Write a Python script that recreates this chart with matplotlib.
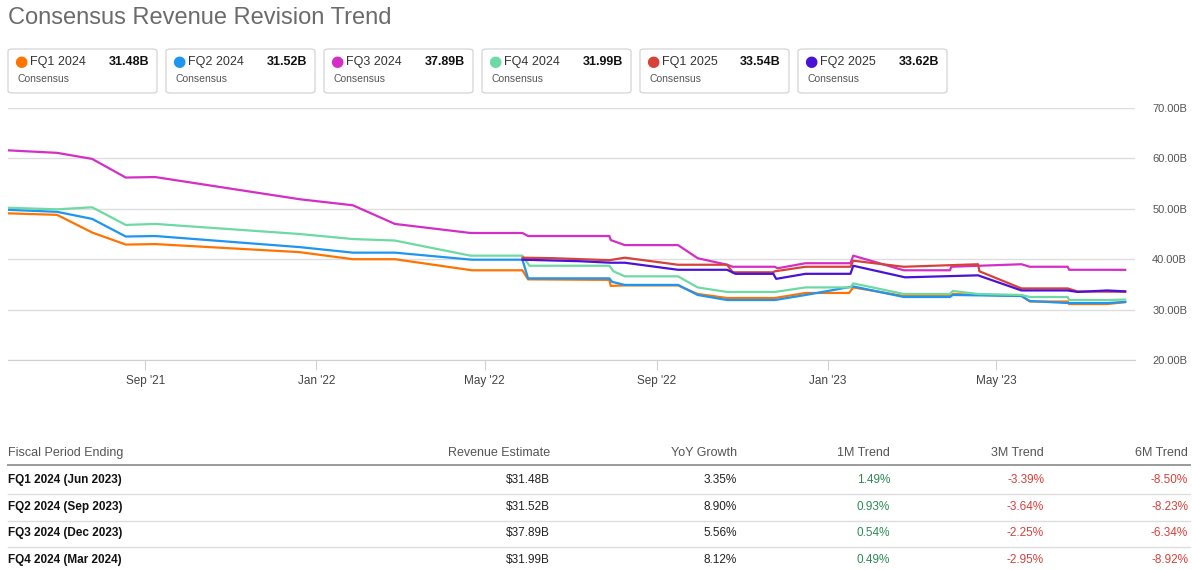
import pandas as pd
import matplotlib
matplotlib.use("Agg")
import matplotlib.pyplot as plt
import matplotlib.dates as mdates
from matplotlib.patches import FancyBboxPatch

plt.rcParams['font.family'] = ['Liberation Sans', 'DejaVu Sans']

W, H = 1192, 570

# ---- data ----
series_names = ['FQ1 2024', 'FQ2 2024', 'FQ3 2024', 'FQ4 2024', 'FQ1 2025', 'FQ2 2025']
series_latest = ['31.48B', '31.52B', '37.89B', '31.99B', '33.54B', '33.62B']
series_colors = ['#ff7300', '#1e96f0', '#d42ec6', '#6dd9a3', '#d6423a', '#4a12d6']

fq1_24_dates = ['2021-05-26', '2021-06-30', '2021-07-25', '2021-08-18', '2021-09-08', '2021-12-20',
                '2022-01-27', '2022-02-26', '2022-04-22', '2022-05-28', '2022-06-01', '2022-07-29',
                '2022-07-30', '2022-08-09', '2022-09-16', '2022-09-30', '2022-10-21', '2022-11-24',
                '2022-12-16', '2023-01-16', '2023-01-19', '2023-02-24', '2023-03-29', '2023-03-31',
                '2023-05-19', '2023-05-25', '2023-06-21', '2023-06-22', '2023-07-19', '2023-08-01']
fq1_24_vals = [49.1, 48.8, 45.3, 42.9, 43.0, 41.4,
               40.0, 40.0, 37.8, 37.8, 36.0, 35.9,
               34.7, 34.8, 34.8, 33.1, 32.3, 32.3,
               33.3, 33.3, 34.4, 32.7, 32.7, 33.1,
               32.7, 31.6, 31.6, 31.1, 31.1, 31.48]

fq2_24_dates = ['2021-05-26', '2021-06-30', '2021-07-25', '2021-08-18', '2021-09-08', '2021-12-20',
                '2022-01-27', '2022-02-26', '2022-04-22', '2022-05-28', '2022-06-01', '2022-07-29',
                '2022-07-31', '2022-08-09', '2022-09-16', '2022-09-30', '2022-10-21', '2022-11-24',
                '2022-12-16', '2023-01-15', '2023-01-19', '2023-02-24', '2023-03-29', '2023-03-31',
                '2023-05-19', '2023-05-25', '2023-06-21', '2023-07-19', '2023-08-01']
fq2_24_vals = [49.8, 49.4, 48.0, 44.5, 44.6, 42.4,
               41.3, 41.3, 39.9, 39.9, 36.2, 36.2,
               35.5, 34.9, 34.9, 32.9, 31.9, 31.9,
               32.9, 34.4, 34.6, 32.5, 32.5, 32.9,
               32.7, 31.7, 31.3, 31.3, 31.52]

fq3_24_dates = ['2021-05-26', '2021-06-30', '2021-07-25', '2021-08-18', '2021-09-08', '2021-12-20',
                '2022-01-27', '2022-02-26', '2022-04-21', '2022-05-28', '2022-06-01', '2022-07-29',
                '2022-07-30', '2022-08-09', '2022-09-16', '2022-09-30', '2022-10-21', '2022-10-25',
                '2022-11-24', '2022-11-26', '2022-12-16', '2023-01-17', '2023-01-19', '2023-02-24',
                '2023-03-29', '2023-03-30', '2023-05-19', '2023-05-25', '2023-06-21', '2023-06-22',
                '2023-07-19', '2023-08-01']
fq3_24_vals = [61.6, 61.1, 59.9, 56.2, 56.3, 51.9,
               50.7, 47.0, 45.2, 45.2, 44.6, 44.6,
               43.8, 42.8, 42.8, 40.2, 38.9, 38.5,
               38.5, 38.2, 39.2, 39.2, 40.7, 37.8,
               37.8, 38.5, 39.0, 38.5, 38.5, 37.9,
               37.9, 37.89]

fq4_24_dates = ['2021-05-26', '2021-06-30', '2021-07-25', '2021-08-18', '2021-09-08', '2021-12-20',
                '2022-01-27', '2022-02-26', '2022-04-21', '2022-05-28', '2022-06-02', '2022-07-29',
                '2022-08-01', '2022-08-09', '2022-09-16', '2022-09-30', '2022-10-21', '2022-11-24',
                '2022-12-16', '2023-01-17', '2023-01-19', '2023-02-24', '2023-03-29', '2023-03-31',
                '2023-04-18', '2023-05-19', '2023-05-25', '2023-06-21', '2023-06-22', '2023-07-19',
                '2023-08-01']
fq4_24_vals = [50.2, 49.9, 50.3, 46.8, 47.0, 45.0,
               44.0, 43.7, 40.7, 40.7, 38.7, 38.7,
               37.6, 36.6, 36.6, 34.4, 33.5, 33.5,
               34.4, 34.4, 35.2, 33.1, 33.1, 33.7,
               33.1, 32.9, 32.5, 32.5, 31.9, 31.9,
               31.99]

fq1_25_dates = ['2022-05-28', '2022-06-19', '2022-07-29', '2022-08-09', '2022-09-16', '2022-10-21',
                '2022-10-25', '2022-11-23', '2022-11-24', '2022-12-16', '2023-01-17', '2023-01-19',
                '2023-02-24', '2023-04-18', '2023-04-19', '2023-05-19', '2023-06-21', '2023-06-28',
                '2023-08-01']
fq1_25_vals = [40.3, 40.2, 39.8, 40.3, 38.9, 38.9,
               37.4, 37.4, 37.6, 38.5, 38.5, 39.7,
               38.5, 39.0, 37.6, 34.2, 34.2, 33.6,
               33.54]

fq2_25_dates = ['2022-05-28', '2022-07-08', '2022-07-30', '2022-08-09', '2022-09-16', '2022-10-21',
                '2022-10-27', '2022-11-23', '2022-11-25', '2022-12-16', '2023-01-17', '2023-01-19',
                '2023-02-25', '2023-04-18', '2023-05-19', '2023-06-21', '2023-06-28', '2023-07-19',
                '2023-08-01']
fq2_25_vals = [39.9, 39.6, 39.3, 39.3, 37.9, 37.9,
               37.1, 37.1, 36.1, 37.1, 37.1, 38.7,
               36.4, 36.8, 33.8, 33.8, 33.5, 33.8,
               33.62]

all_dates = [fq1_24_dates, fq2_24_dates, fq3_24_dates, fq4_24_dates, fq1_25_dates, fq2_25_dates]
all_vals = [fq1_24_vals, fq2_24_vals, fq3_24_vals, fq4_24_vals, fq1_25_vals, fq2_25_vals]

x_ticks = ['2021-09-01', '2022-01-01', '2022-05-01', '2022-09-01', '2023-01-01', '2023-05-01']
y_ticks = [20, 30, 40, 50, 60, 70]

# table
table_header = ['Fiscal Period Ending', 'Revenue Estimate', 'YoY Growth', '1M Trend', '3M Trend', '6M Trend']
table_period = ['FQ1 2024 (Jun 2023)', 'FQ2 2024 (Sep 2023)', 'FQ3 2024 (Dec 2023)', 'FQ4 2024 (Mar 2024)']
table_estimate = ['$31.48B', '$31.52B', '$37.89B', '$31.99B']
table_yoy = ['3.35%', '8.90%', '5.56%', '8.12%']
table_1m = ['1.49%', '0.93%', '0.54%', '0.49%']
table_3m = ['-3.39%', '-3.64%', '-2.25%', '-2.95%']
table_6m = ['-8.50%', '-8.23%', '-6.34%', '-8.92%']


def fx(px):
    return px / W


def fy(py):
    return 1 - py / H


fig = plt.figure(figsize=(W / 100, H / 100), dpi=100)

# title
fig.text(fx(8), fy(18), 'Consensus Revenue Revision Trend', fontsize=17, color='#6b6b6b',
         va='center', ha='left')

# legend cards
card_w, card_gap = 149, 9
for i, (name, val, col) in enumerate(zip(series_names, series_latest, series_colors)):
    x0 = 8 + i * (card_w + card_gap)
    box = FancyBboxPatch((fx(x0), fy(93)), fx(card_w), 44 / H,
                         boxstyle='round,pad=0,rounding_size=0.004',
                         transform=fig.transFigure, facecolor='white', edgecolor='#d4d4d4',
                         linewidth=0.9)
    fig.patches.append(box)
    fig.text(fx(x0 + 13), fy(62), '\u25cf', color=col, fontsize=11, va='center', ha='center',
             family=['DejaVu Sans'])
    fig.text(fx(x0 + 22), fy(62), name, fontsize=9, color='#333333', va='center', ha='left')
    fig.text(fx(x0 + 141), fy(62), val, fontsize=9, color='#111111', va='center', ha='right',
             fontweight='bold')
    fig.text(fx(x0 + 9), fy(79), 'Consensus', fontsize=7.5, color='#555555', va='center',
             ha='left')

# chart
ax = fig.add_axes([fx(8), fy(360), fx(1135 - 8), (360 - 108) / H])
for d, v, col in zip(all_dates, all_vals, series_colors):
    ax.plot(pd.to_datetime(d), v, color=col, linewidth=1.6, solid_joinstyle='round')

ax.set_xlim(pd.Timestamp('2021-05-26'), pd.Timestamp('2023-08-08'))
ax.set_ylim(20, 70)
ax.set_xticks(pd.to_datetime(x_ticks))
ax.xaxis.set_major_formatter(mdates.DateFormatter("%b '%y"))
ax.set_yticks(y_ticks)
ax.set_yticklabels([f'{t:.2f}B' for t in y_ticks])
ax.yaxis.tick_right()
for lab in ax.get_yticklabels():
    lab.set_horizontalalignment('right')
ax.tick_params(axis='y', length=0, pad=37.5, labelsize=8, labelcolor='#555555')
ax.tick_params(axis='x', length=7, width=0.8, color='#d0d0d0', pad=4, labelsize=8.5,
               labelcolor='#444444')
ax.grid(axis='y', color='#dedede', linewidth=1)
for s in ['top', 'left', 'right']:
    ax.spines[s].set_visible(False)
ax.spines['bottom'].set_color('#d0d0d0')
ax.set_axisbelow(True)

# table
col_x = [8, 550, 737, 890, 1044, 1188]
col_ha = ['left', 'right', 'right', 'right', 'right', 'right']
for txt, x, ha in zip(table_header, col_x, col_ha):
    fig.text(fx(x), fy(453), txt, fontsize=9, color='#555555', va='center', ha=ha)
fig.add_artist(plt.Line2D([fx(8), fx(1190)], [fy(465), fy(465)], color='#9a9a9a', linewidth=1.4))

row_y = [480, 507, 533, 560]
for r, y in enumerate(row_y):
    cells = [table_period[r], table_estimate[r], table_yoy[r], table_1m[r], table_3m[r], table_6m[r]]
    colors = ['#111111', '#222222', '#222222', '#2e8b57', '#d9403a', '#d9403a']
    for c, (txt, x, ha, col) in enumerate(zip(cells, col_x, col_ha, colors)):
        fig.text(fx(x), fy(y), txt, fontsize=8.5, color=col, va='center', ha=ha,
                 fontweight='bold' if c == 0 else 'normal')
    if r < len(row_y) - 1:
        fig.add_artist(plt.Line2D([fx(8), fx(1190)], [fy(y + 13.5), fy(y + 13.5)],
                                  color='#dddddd', linewidth=1))

fig.savefig('out.png', dpi=100)
